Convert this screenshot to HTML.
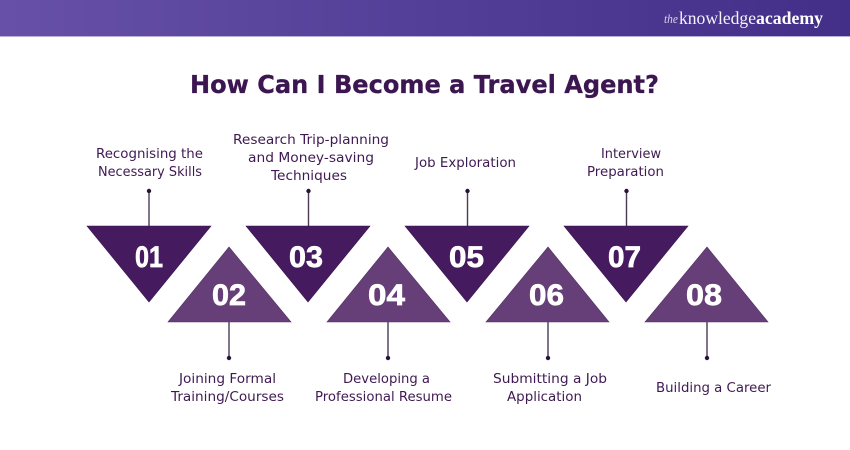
<!DOCTYPE html>
<html><head><meta charset="utf-8"><style>
html,body{margin:0;padding:0;background:#fff}
svg{display:block}
.l{font-family:"DejaVu Sans",sans-serif;font-size:13px;fill:#3f1a52}
.n{font-family:"Liberation Sans",sans-serif;font-weight:bold;font-size:30px;fill:#fff;stroke:#fff;stroke-width:.7}
</style></head><body>
<svg width="850" height="450" viewBox="0 0 850 450" xmlns="http://www.w3.org/2000/svg">
<defs><linearGradient id="h" x1="0" x2="1" y1="0" y2="0"><stop offset="0" stop-color="#6751a8"/><stop offset=".5" stop-color="#533f97"/><stop offset="1" stop-color="#432f88"/></linearGradient></defs>
<rect width="850" height="36" fill="url(#h)"/>
<rect y="36" width="850" height="1" fill="#b9b0d6"/>
<text x="664" y="23" font-family="Liberation Serif,serif" font-style="italic" font-size="13" fill="#d9d3ea" textLength="14" lengthAdjust="spacingAndGlyphs">the</text>
<text x="679" y="24" font-family="Liberation Serif,serif" font-size="18" fill="#f4f2fa" textLength="77" lengthAdjust="spacingAndGlyphs">knowledge</text>
<text x="756" y="24" font-family="Liberation Serif,serif" font-weight="bold" font-size="18" fill="#fff" textLength="67" lengthAdjust="spacingAndGlyphs">academy</text>
<text x="190" y="93" font-family="DejaVu Sans,sans-serif" font-weight="bold" font-size="25" fill="#3b1650" stroke="#3b1650" stroke-width=".3" textLength="469" lengthAdjust="spacingAndGlyphs">How Can I Become a Travel Agent?</text>

<g stroke="#4a3a55" stroke-width="1.4">
<line x1="149" y1="191" x2="149" y2="227"/><line x1="308.500" y1="191" x2="308.500" y2="227"/><line x1="467.500" y1="191" x2="467.500" y2="227"/><line x1="626.500" y1="191" x2="626.500" y2="227"/>
<line x1="229" y1="322" x2="229" y2="358"/><line x1="388" y1="322" x2="388" y2="358"/><line x1="548" y1="322" x2="548" y2="358"/><line x1="707" y1="322" x2="707" y2="358"/>
</g>
<g fill="#2b1238">
<circle cx="149" cy="191" r="2.200"/><circle cx="308.500" cy="191" r="2.200"/><circle cx="467.500" cy="191" r="2.200"/><circle cx="626.500" cy="191" r="2.200"/>
<circle cx="229" cy="358" r="2.200"/><circle cx="388" cy="358" r="2.200"/><circle cx="548" cy="358" r="2.200"/><circle cx="707" cy="358" r="2.200"/>
</g>
<g fill="#461a5e" stroke="#3a1450" stroke-width=".6">
<polygon points="87,226 211,226 149,302"/>
<polygon points="246,226 370,226 308,302"/>
<polygon points="405,226 529,226 467,302"/>
<polygon points="564,226 688,226 626,302"/>
</g>
<g fill="#673f78" stroke="#553066" stroke-width=".6">
<polygon points="229,247 291,322 168,322"/>
<polygon points="388,247 450,322 327,322"/>
<polygon points="548,247 609,322 486,322"/>
<polygon points="707,247 768,322 645,322"/>
</g>
<g>
<text class="n" x="135" y="267" textLength="28" lengthAdjust="spacingAndGlyphs">01</text>
<text class="n" x="212" y="305" textLength="34" lengthAdjust="spacingAndGlyphs">02</text>
<text class="n" x="289" y="267" textLength="34" lengthAdjust="spacingAndGlyphs">03</text>
<text class="n" x="368" y="305" textLength="37" lengthAdjust="spacingAndGlyphs">04</text>
<text class="n" x="449" y="267" textLength="35" lengthAdjust="spacingAndGlyphs">05</text>
<text class="n" x="529" y="305" textLength="35" lengthAdjust="spacingAndGlyphs">06</text>
<text class="n" x="608" y="267" textLength="33" lengthAdjust="spacingAndGlyphs">07</text>
<text class="n" x="686" y="305" textLength="36" lengthAdjust="spacingAndGlyphs">08</text>
</g>
<text class="l" x="96" y="158" textLength="107" lengthAdjust="spacingAndGlyphs">Recognising the</text>
<text class="l" x="98" y="176" textLength="104" lengthAdjust="spacingAndGlyphs">Necessary Skills</text>
<text class="l" x="233" y="144" textLength="156" lengthAdjust="spacingAndGlyphs">Research Trip-planning</text>
<text class="l" x="248" y="162" textLength="126" lengthAdjust="spacingAndGlyphs">and Money-saving</text>
<text class="l" x="271" y="180" textLength="76" lengthAdjust="spacingAndGlyphs">Techniques</text>
<text class="l" x="415" y="167" textLength="101" lengthAdjust="spacingAndGlyphs">Job Exploration</text>
<text class="l" x="601" y="158" textLength="60" lengthAdjust="spacingAndGlyphs">Interview</text>
<text class="l" x="587" y="176" textLength="77" lengthAdjust="spacingAndGlyphs">Preparation</text>
<text class="l" x="179" y="383" textLength="97" lengthAdjust="spacingAndGlyphs">Joining Formal</text>
<text class="l" x="171" y="401" textLength="113" lengthAdjust="spacingAndGlyphs">Training/Courses</text>
<text class="l" x="343" y="383" textLength="87" lengthAdjust="spacingAndGlyphs">Developing a</text>
<text class="l" x="315" y="401" textLength="137" lengthAdjust="spacingAndGlyphs">Professional Resume</text>
<text class="l" x="493" y="383" textLength="114" lengthAdjust="spacingAndGlyphs">Submitting a Job</text>
<text class="l" x="507" y="401" textLength="75" lengthAdjust="spacingAndGlyphs">Application</text>
<text class="l" x="656" y="392" textLength="115" lengthAdjust="spacingAndGlyphs">Building a Career</text>
</svg>
</body></html>
